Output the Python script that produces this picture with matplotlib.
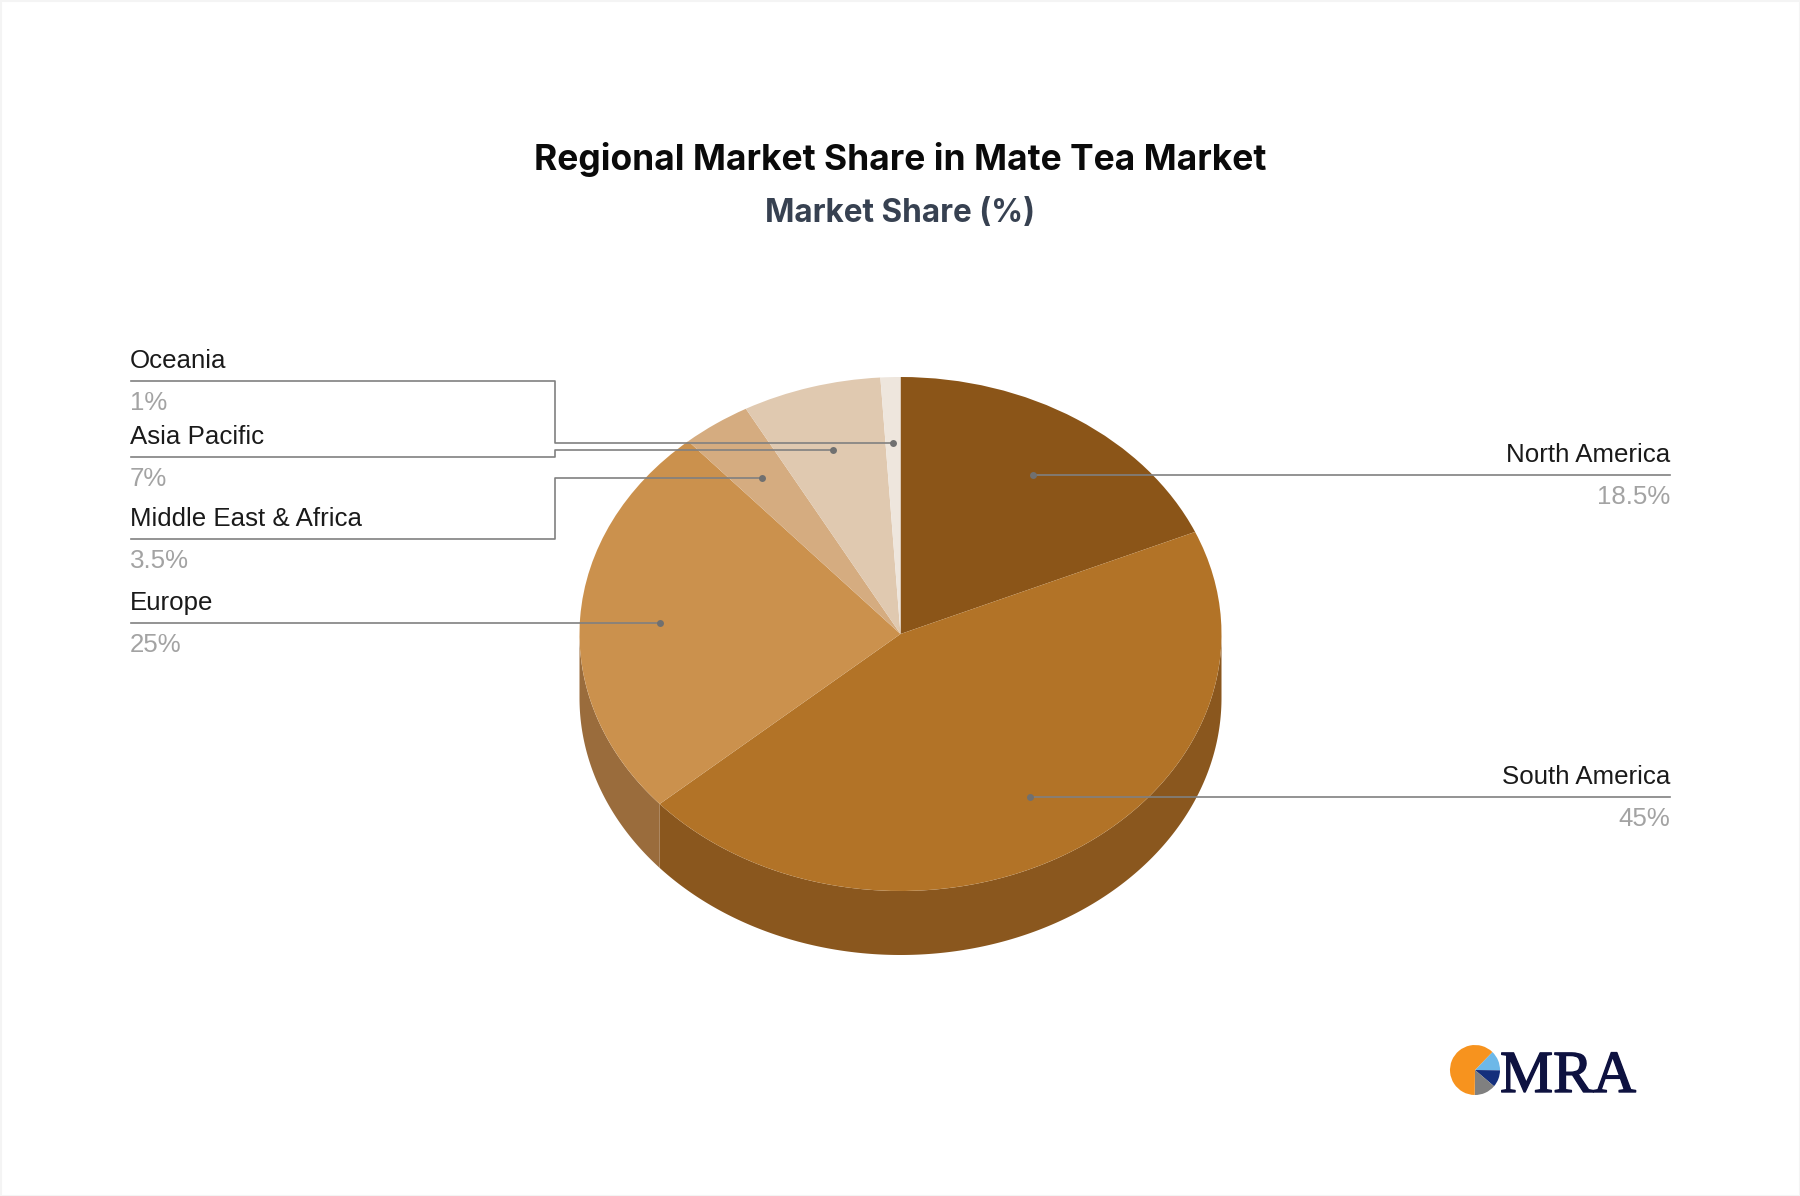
import numpy as np
import matplotlib
matplotlib.use("Agg")
import matplotlib.pyplot as plt
import matplotlib.patheffects as pe
from matplotlib.patches import Rectangle, Wedge


regions = ["North America", "South America", "Europe", "Middle East & Africa", "Asia Pacific", "Oceania"]
shares = [18.5, 45, 25, 3.5, 7, 1]
share_labels = ["18.5%", "45%", "25%", "3.5%", "7%", "1%"]
top_colors = ["#8B5518", "#B27327", "#CB914D", "#D5AC80", "#E0C9B0", "#EEE6DD"]
side_colors = ["#6F4413", "#8A571E", "#9A6C3C", "#A5805A", "#B09A80", "#BDB5AC"]

# logo slices clockwise from upper right: light blue, navy, grey, orange
logo_sizes = [13, 11, 14, 62]
logo_colors = ["#6DB8E8", "#142F7C", "#808080", "#F7931E"]

W, H = 1800, 1196
CX, CY = 900.5, 634
RX, RY = 321, 257
DEPTH = 64

fig = plt.figure(figsize=(W / 100, H / 100), dpi=100, facecolor="white")

# pie axes: one data unit is one radius, so the wedges come out elliptical
ax = fig.add_axes([0, 0, 1, 1])
ax.pie(shares, colors=top_colors, startangle=90, counterclock=False, radius=1, center=(0, 0))
ax.set_aspect("auto")
ax.set_xlim(-CX / RX, (W - CX) / RX)
ax.set_ylim((CY - H) / RY, CY / RY)
ax.axis("off")

# side wall, only the part of each slice facing the viewer
fractions = np.array(shares) / sum(shares)
edges = np.concatenate([[0], np.cumsum(fractions)]) * 2 * np.pi
d = DEPTH / RY
for i, col in enumerate(side_colors):
    a0 = max(edges[i], np.pi / 2)
    a1 = min(edges[i + 1], 3 * np.pi / 2)
    if a1 <= a0:
        continue
    t = np.linspace(a0, a1, 200)
    xs = np.sin(t)
    ys = np.cos(t)
    ax.fill(np.r_[xs, xs[::-1]], np.r_[ys, ys[::-1] - d], color=col, lw=0, zorder=0)

# overlay in pixel coordinates for leaders, text and logo
ov = fig.add_axes([0, 0, 1, 1])
ov.set_xlim(0, W)
ov.set_ylim(H, 0)
ov.axis("off")
ov.patch.set_alpha(0)

ov.add_patch(Rectangle((0.5, 0.5), W - 1, H - 1, fill=False, ec="#F4F4F4", lw=1.5))

ov.text(900, 159.5, "Regional Market Share in Mate Tea Market", family="Inter", weight="bold",
        fontsize=25.5, color="#0A0A0A", ha="center", va="center")
ov.text(900, 214, "Market Share (%)", family="Inter", weight="bold",
        fontsize=22.7, color="#374151", ha="center", va="center")

mids = (edges[:-1] + edges[1:]) / 2
dot_x = CX + 0.75 * RX * np.sin(mids)
dot_y = CY + 1.2 - 0.75 * RY * np.cos(mids)

# label line height for each region, and the elbow for the crowded left ones
label_y = [475, 797, 623, 539, 457, 381]
LINE = "#808080"
LEFT, RIGHT, ELBOW = 131, 1670, 555

for i, name in enumerate(regions):
    y = label_y[i]
    py = dot_y[i]
    if abs(py - y) < 3:
        py = y
    if dot_x[i] > CX:
        ov.plot([dot_x[i], RIGHT], [py, y], color=LINE, lw=1.2)
        tx, ha = RIGHT, "right"
    else:
        if py != y:
            ov.plot([dot_x[i], ELBOW, ELBOW, LEFT], [py, py, y, y], color=LINE, lw=1.2)
        else:
            ov.plot([dot_x[i], LEFT], [y, y], color=LINE, lw=1.2)
        tx, ha = LEFT - 1, "left"
    ov.plot(dot_x[i], py, "o", ms=5, color="#707070", mew=0)
    ov.text(tx, y - 13, name, family="Liberation Sans", fontsize=18.6, color="#1A1A1A", ha=ha, va="baseline")
    ov.text(tx, y + 29, share_labels[i], family="Liberation Sans", fontsize=18.6, color="#A3A3A3", ha=ha, va="baseline")

# logo
lc, lr = (1475, 1070), 25
a = -46
for size, col in zip(logo_sizes, logo_colors):
    sweep = size * 3.6
    # y axis is inverted here, so rising angles run clockwise on screen
    ov.add_patch(Wedge(lc, lr, a, a + sweep, fc=col, ec="none"))
    a += sweep

ov.text(1500, 1092, "MRA", family="Liberation Serif", fontsize=43, color="#0E1240", ha="left", va="baseline",
        path_effects=[pe.withStroke(linewidth=1.0, foreground="#0E1240")])

fig.savefig("out.png", dpi=100)
